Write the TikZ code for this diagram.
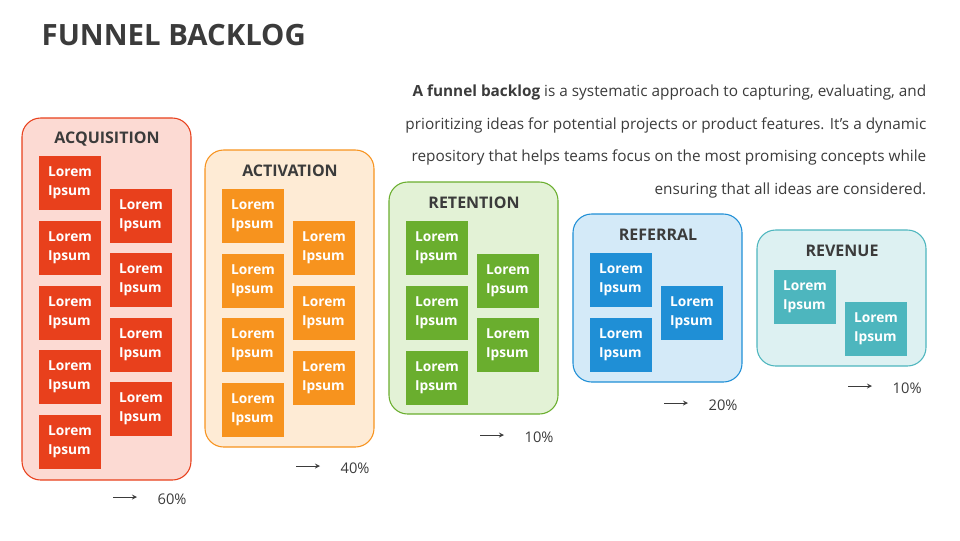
\documentclass[tikz,border=0pt]{standalone}
\usepackage{fontspec}
\setmainfont{Open Sans}
\usetikzlibrary{positioning}
\definecolor{redA}{HTML}{E8401C}\definecolor{redL}{HTML}{FCDAD3}
\definecolor{orgA}{HTML}{F7931E}\definecolor{orgL}{HTML}{FEEBD5}
\definecolor{grnA}{HTML}{6AAE2E}\definecolor{grnL}{HTML}{E3F2D6}
\definecolor{bluA}{HTML}{1F8FD6}\definecolor{bluL}{HTML}{D4EAF8}
\definecolor{tealA}{HTML}{4DB6BE}\definecolor{tealL}{HTML}{DDF1F2}
\definecolor{ink}{HTML}{3B3B3B}
\begin{document}
\begin{tikzpicture}[x=0.75pt,y=-0.75pt]
\tikzstyle{panel} = [rounded corners=14, line width=0.8];
\tikzstyle{stage} = [font=\bfseries\fontsize{12}{14}\selectfont, text=ink];
\tikzstyle{card} = [font=\bfseries\fontsize{10.3}{14.5}\selectfont, text=white, minimum width=46.5pt, minimum height=40.5pt, align=left, inner sep=0];
\tikzstyle{pct} = [font=\fontsize{11}{13}\selectfont, text=ink];
\tikzstyle{arr} = [line width=0.7, -stealth];
\useasboundingbox (0,0) rectangle (960,540);
\node [font=\bfseries\fontsize{22}{26}\selectfont, text=ink, anchor=west] (title) at (37,35) {FUNNEL BACKLOG};
\node [font=\fontsize{11.5}{24.5}\selectfont, text=ink, align=right, anchor=north east] (intro) at (931,80)
 {\textbf{A funnel backlog} is a systematic approach to capturing, evaluating, and\\
  prioritizing ideas for potential projects or product features. It's a dynamic\\
  repository that helps teams focus on the most promising concepts while\\
  ensuring that all ideas are considered.};
% panels: name/x/ytop/ybottom/color/title/col1 rows/col2 rows/pct y/pct
\foreach \n/\x/\yt/\yb/\c/\t/\ra/\rb/\py/\p in {
  acq/22/118/480/red/ACQUISITION/{156,221,286,350,415}/{189,253,318,382}/497/60,
  act/205/150/447/org/ACTIVATION/{189,254,318,383}/{221,286,351}/466/40,
  ret/389/182/414/grn/RETENTION/{221,286,351}/{254,318}/435/10,
  ref/573/214/382/blu/REFERRAL/{253,318}/{286}/403/20,
  rev/757/230/366/teal/REVENUE/{270}/{302}/386/10}{
  \draw [panel, draw=\c A, fill=\c L] (\x,\yt) rectangle ++(169,\yb-\yt);
  \node [stage] (\n-title) at (\x+85,\yt+21) {\t};
  \foreach \r [count=\i] in \ra
    \node [card, fill=\c A] (\n-a\i) at (\x+48,\r+27) {Lorem\\Ipsum};
  \foreach \r [count=\i] in \rb
    \node [card, fill=\c A] (\n-b\i) at (\x+119,\r+27) {Lorem\\Ipsum};
  \coordinate (\n-s) at (\x+91,\py);
  \coordinate (\n-e) at (\x+115,\py);
  \draw [arr, ink] (\n-s) -- (\n-e);
  \node [pct, anchor=west] (\n-pct) at (\x+131,\py+2) {\p\%};
}
\end{tikzpicture}
\end{document}
